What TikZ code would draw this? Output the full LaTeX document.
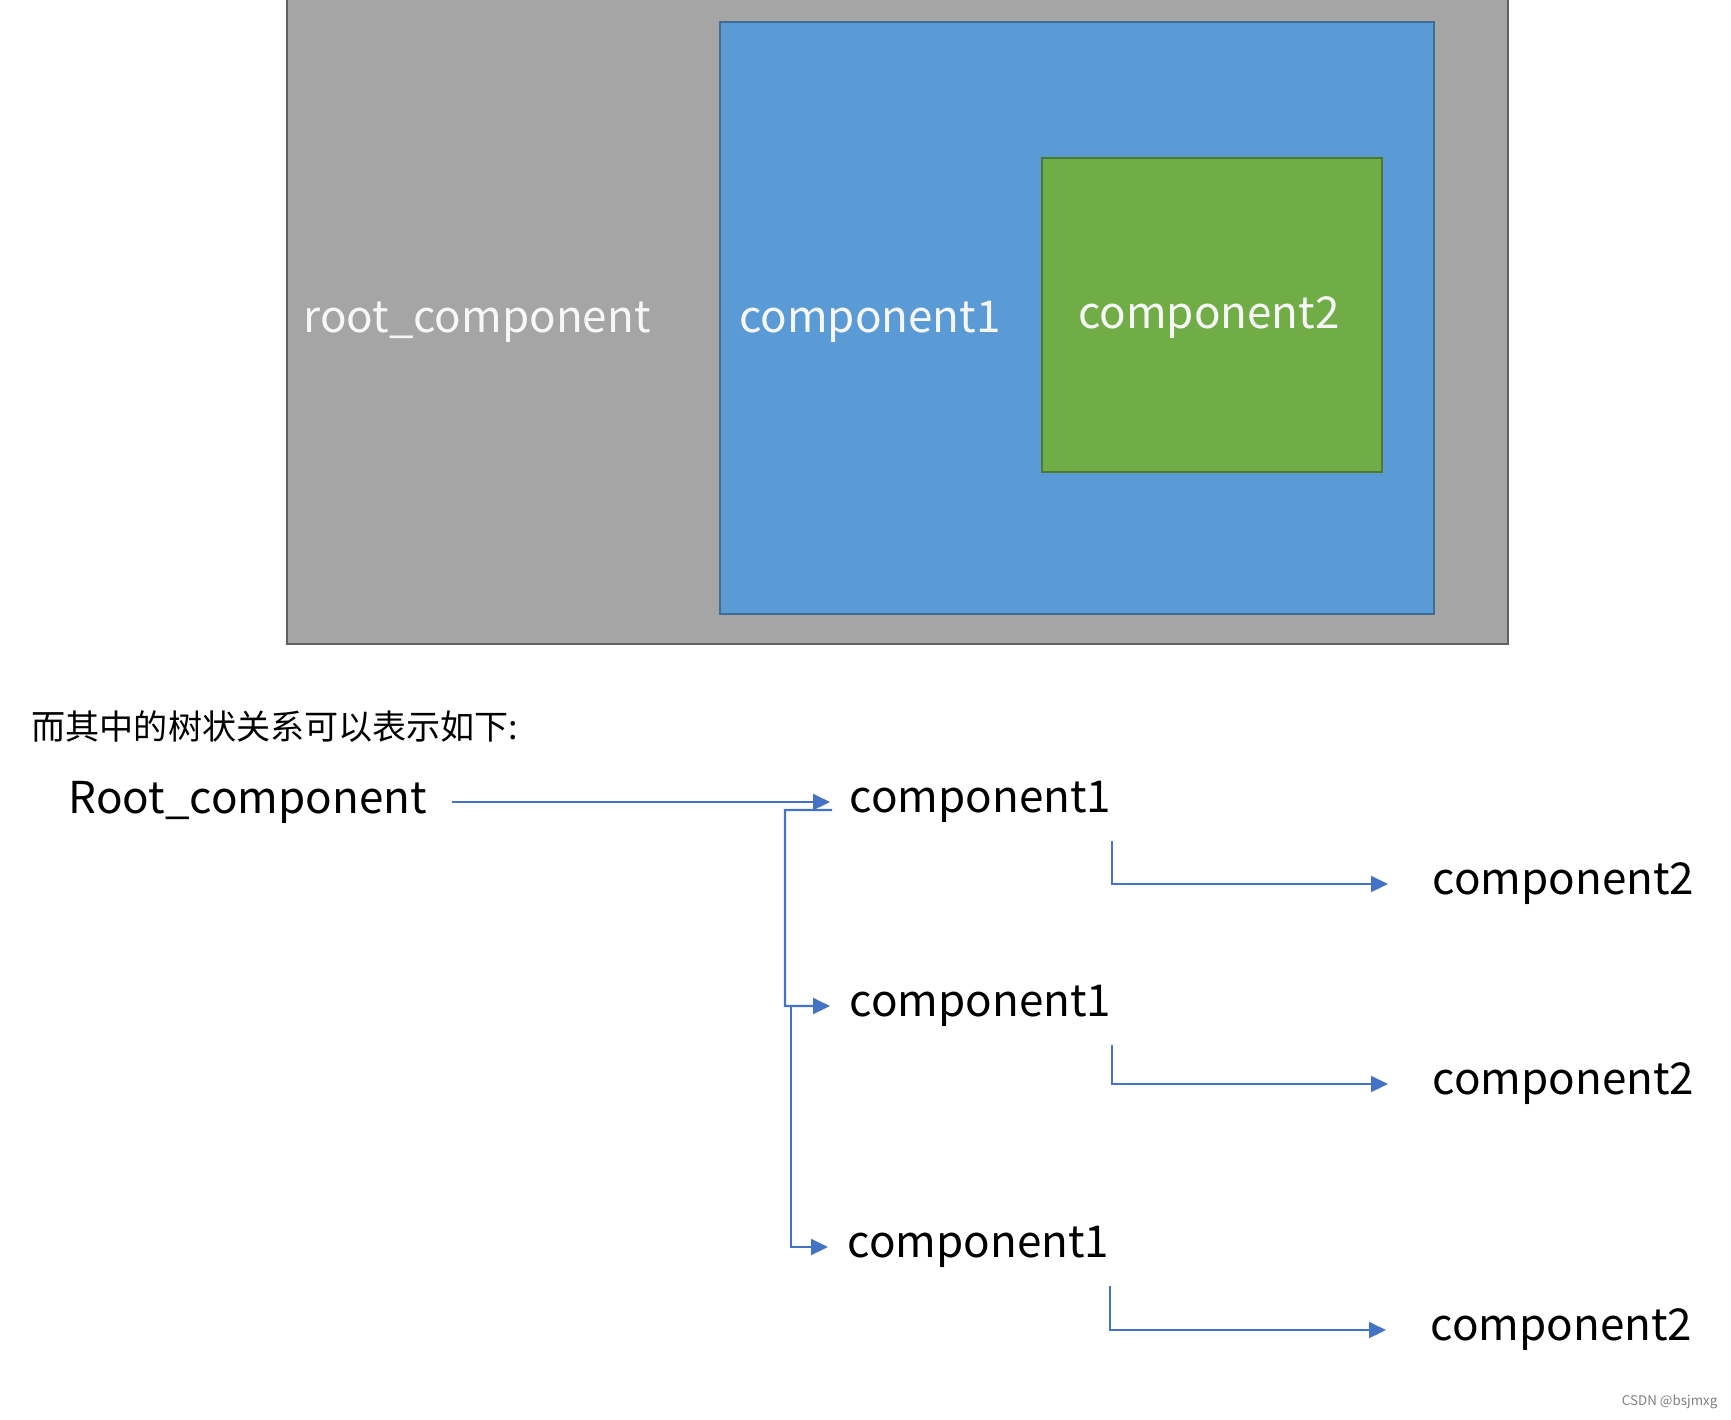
\documentclass[tikz,border=0pt]{standalone}
\usepackage{fontspec}
\setmainfont{Noto Sans CJK SC}
\usepackage{tikz}
\usetikzlibrary{positioning, calc}
\usetikzlibrary{arrows.meta}
\definecolor{boxgray}{HTML}{A5A5A5}
\definecolor{boxblue}{HTML}{5B9BD5}
\definecolor{boxgreen}{HTML}{70AD47}
\definecolor{linkblue}{HTML}{4472C4}

\begin{document}
\begin{tikzpicture}[x=1cm,y=1cm,font=\fontsize{12.5}{14}\selectfont,
  >={Triangle[length=1.7mm,width=1.6mm]},
  label/.style={text=white!94!gray,inner sep=0pt},
  item/.style={anchor=west,inner sep=0pt},
  link/.style={->,linkblue,line width=0.6pt}]

\useasboundingbox (0,0) rectangle (17.31,-14.19);

% ==================== Riquadri annidati ====================
\begin{scope}
  \filldraw[fill=boxgray,draw=gray!75!black,line width=0.6pt]
    (2.87,0.1) rectangle (15.08,-6.44);
  \filldraw[fill=boxblue,draw=boxblue!70!black,line width=0.6pt]
    (7.20,-0.22) rectangle (14.34,-6.14);
  \filldraw[fill=boxgreen,draw=boxgreen!70!black,line width=0.6pt]
    (10.42,-1.58) rectangle (13.82,-4.72);

  \node[label] (rootlbl) at (4.77,-3.22) {root\_component};
  \node[label] (onelbl) at (8.70,-3.22) {component1};
  \node[label] (twolbl) at (12.09,-3.18) {component2};
\end{scope}

% ==================== Albero ====================
\node[anchor=west,inner sep=0pt,font=\fontsize{9.7}{11}\selectfont]
  (caption) at (0.31,-7.27) {而其中的树状关系可以表示如下:};

\node[item] (root) at (0.68,-8.02) {Root\_component};
\node[item] (c1a) at (8.49,-8.02) {component1};
\node[item] (c1b) at (8.49,-10.06) {component1};
\node[item] (c1c) at (8.47,-12.47) {component1};
\node[item] (c2a) at (14.32,-8.84) {component2};
\node[item] (c2b) at (14.32,-10.84) {component2};
\node[item] (c2c) at (14.30,-13.30) {component2};

% Rami
\coordinate (fork1) at (7.85,-8.10);
\coordinate (fork2) at (7.91,-10.06);
\draw[link] ([xshift=2.5mm]root.east) -- ([xshift=-1.9mm]c1a.west);
\draw[link] ([xshift=-1.7mm,yshift=-0.8mm]c1a.west) -- (fork1)
  |- ([xshift=-1.9mm]c1b.west);
\draw[link] (fork2) |- ([xshift=-1.9mm]c1c.west);

\draw[link] ([yshift=-1.8mm]c1a.south east) |- ([xshift=-4.4mm]c2a.west);
\draw[link] ([yshift=-1.8mm]c1b.south east) |- ([xshift=-4.4mm]c2b.west);
\draw[link] ([yshift=-1.8mm]c1c.south east) |- ([xshift=-4.4mm]c2c.west);

\node[anchor=east,inner sep=0pt,text=gray,font=\fontsize{3.8}{4}\selectfont]
  (mark) at (17.18,-14.02) {CSDN @bsjmxg};

\end{tikzpicture}
\end{document}
